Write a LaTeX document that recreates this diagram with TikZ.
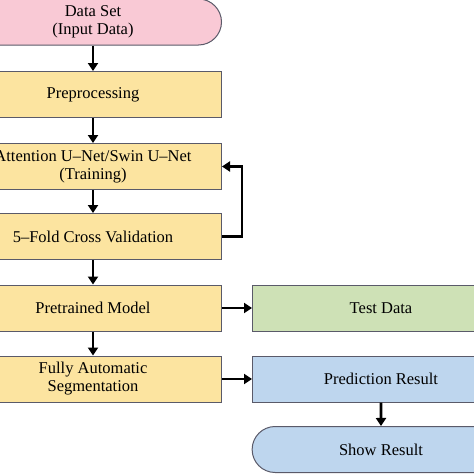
\documentclass[tikz,border=0pt]{standalone}
\usepackage{fontspec}
\setmainfont{Liberation Serif}
\usetikzlibrary{arrows.meta,shapes.misc}
\definecolor{pinkf}{RGB}{249,201,213}
\definecolor{yellf}{RGB}{252,228,160}
\definecolor{greenf}{RGB}{206,225,182}
\definecolor{bluef}{RGB}{190,214,238}
\definecolor{edgec}{RGB}{90,90,105}
\tikzset{
  box/.style={draw=edgec, line width=1pt, minimum height=46pt, minimum width=257pt, inner sep=0pt, align=center, font=\fontsize{16.5}{18}\selectfont},
  lbox/.style={box, fill=yellf},
  conn/.style={line width=2.6pt, -{Triangle[length=8pt,width=10pt]}},
}
\begin{document}
\begin{tikzpicture}[x=1pt,y=-1pt]
\useasboundingbox (0,0) rectangle (474,474);
\node[box, fill=pinkf, rounded rectangle] (ds) at (93,22) {Data Set\\(Input Data)};
\node[lbox] (pre) at (93,94.5) {Preprocessing};
\node[lbox] (att) at (93,166.5) {Attention U--Net/Swin U--Net\\(Training)};
\node[lbox] (cv) at (93,236.5) {5--Fold Cross Validation};
\node[lbox] (pm) at (93,308) {Pretrained Model};
\node[lbox] (fas) at (93,379) {Fully Automatic\\Segmentation};
\node[box, fill=greenf] (td) at (381,308) {Test Data};
\node[box, fill=bluef] (pr) at (381,379) {Prediction Result};
\node[box, fill=bluef, rounded rectangle, rounded rectangle right arc=none] (sr) at (381,449.5) {Show Result};
\coordinate (fb1) at (242,236.5);
\coordinate (fb2) at (242,166.5);
\draw[conn] (ds) -- (pre);
\draw[conn] (pre) -- (att);
\draw[conn] (att) -- (cv);
\draw[conn] (cv) -- (pm);
\draw[conn] (pm) -- (fas);
\draw[conn] (pm) -- (td);
\draw[conn] (fas) -- (pr);
\draw[conn] (pr) -- (sr);
\draw[conn] (cv.east) -- (fb1) -- (fb2) -- (att.east);
\end{tikzpicture}
\end{document}
